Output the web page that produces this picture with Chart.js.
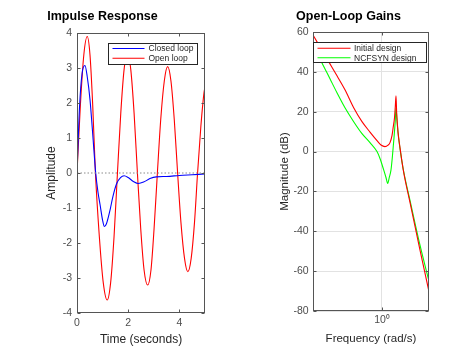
<!DOCTYPE html>
<html><head><meta charset="utf-8">
<script src="https://cdn.jsdelivr.net/npm/chart.js@4/dist/chart.umd.min.js"></script>
<style>
html,body{margin:0;padding:0;background:#fff;}
#wrap{position:relative;width:474px;height:355px;overflow:hidden;background:#fff;}
canvas{position:absolute;top:0;}
#c1{left:0;} #c2{left:268px;}
</style></head><body>
<div id="wrap"><canvas id="c1" width="282" height="355"></canvas><canvas id="c2" width="206" height="355"></canvas></div>
<script>
const FONT = "'Liberation Sans', Arial, Helvetica, sans-serif";

// ---- Impulse Response data ----
const closedT = [0, 0.1, 0.2, 0.31, 0.4, 0.51, 0.6, 0.66, 0.73, 0.82, 0.9, 1.0, 1.07, 1.15, 1.29, 1.4, 1.55, 1.7, 1.84, 2.0, 2.2, 2.4, 2.6, 2.85, 3.1, 3.5, 4.0, 4.5, 5.0];
const closedY = [0, 1.9, 2.85, 3.07, 2.75, 2.08, 1.25, 0.66, 0, -0.55, -0.9, -1.35, -1.53, -1.45, -1.06, -0.68, -0.3, -0.13, -0.08, -0.13, -0.24, -0.3, -0.26, -0.16, -0.11, -0.1, -0.07, -0.05, -0.03];
const openT = [0, 0.133, 0.267, 0.4, 0.507, 0.613, 0.72, 0.873, 1.027, 1.18, 1.313, 1.447, 1.58, 1.71, 1.84, 1.97, 2.10, 2.23, 2.36, 2.49, 2.62, 2.76, 2.89, 3.01, 3.14, 3.27, 3.41, 3.54, 3.67, 3.80, 3.93, 4.06, 4.20, 4.33, 4.46, 4.59, 4.71, 4.84, 4.97, 5.0];
const openY = [0, 1.95, 3.38, 3.9, 3.38, 1.95, 0, -1.82, -3.14, -3.63, -3.14, -1.82, 0, 1.71, 2.96, 3.42, 2.96, 1.71, 0, -1.6, -2.77, -3.2, -2.77, -1.6, 0, 1.52, 2.63, 3.04, 2.63, 1.52, 0, -1.41, -2.44, -2.82, -2.44, -1.41, 0, 1.35, 2.34, 2.42];
const zeroT = [0, 5];
const zeroY = [0, 0];
const timeTicks = [0, 2, 4];
const ampTicks = [-4, -3, -2, -1, 0, 1, 2, 3, 4];

// ---- Open-Loop Gains data ----
const initialW = [0.1475, 0.2363, 0.287, 0.3582, 0.456, 0.5741, 0.7169, 0.8707, 0.9726, 1.0868, 1.1811, 1.2486, 1.3197, 1.368, 1.4148, 1.4466, 1.4749, 1.5038, 1.559, 1.6478, 1.8056, 2.1747, 2.8703, 3.6531];
const initialMag = [58.5, 44, 38, 31, 22, 15, 9.8, 5.5, 3.3, 2.5, 3.2, 4.5, 8, 12.5, 17, 22.6, 28, 19, 10, 2, -9.3, -25.5, -49.5, -69.6];
const ncfW = [0.1475, 0.1893, 0.2363, 0.287, 0.3582, 0.456, 0.5741, 0.7169, 0.8707, 0.946, 1.0483, 1.1173, 1.1713, 1.2245, 1.2839, 1.3381, 1.3953, 1.4426, 1.4749, 1.508, 1.559, 1.6478, 1.8056, 2.1747, 2.8703, 3.6531];
const ncfMag = [53, 44.5, 36.5, 29.5, 22, 15, 9, 4.5, 0, -3.5, -9.2, -13, -16, -13, -9.2, -2, 7, 15, 22, 17, 9.5, 1.5, -9, -24.5, -47, -64.5];
const freqTicks = [1];
const freqTickLabels = ['10\u2070'];
const magTicks = [-80, -60, -40, -20, 0, 20, 40, 60];

const pts = (xs, ys) => xs.map((x, i) => ({x, y: ys[i]}));

const frame = {
  id: 'frame',
  afterDatasetsDraw(chart, args, o) {
    const {ctx, chartArea: a, scales} = chart;
    ctx.save();
    ctx.strokeStyle = o.color; ctx.lineWidth = 1;
    const L = Math.round(a.left) + 0.5, T = Math.round(a.top) + 0.5;
    const R = Math.round(a.right) - 0.5, B = Math.round(a.bottom) - 0.5;
    ctx.beginPath();
    scales.x.ticks.forEach(t => {
      const p = Math.round(scales.x.getPixelForValue(t.value)) + 0.5;
      ctx.moveTo(p, B); ctx.lineTo(p, B - o.len);
      ctx.moveTo(p, T); ctx.lineTo(p, T + o.len);
    });
    scales.y.ticks.forEach(t => {
      const p = Math.round(scales.y.getPixelForValue(t.value)) + 0.5;
      ctx.moveTo(L, p); ctx.lineTo(L + o.len, p);
      ctx.moveTo(R, p); ctx.lineTo(R - o.len, p);
    });
    ctx.stroke();
    ctx.strokeRect(L, T, R - L, B - T);
    // legend
    const g = o.legend;
    const bx = Math.round(a.left + g.dx) + 0.5, by = Math.round(a.top + g.dy) + 0.5;
    ctx.fillStyle = '#fff';
    ctx.fillRect(bx, by, g.w, g.h);
    ctx.strokeStyle = '#262626';
    ctx.strokeRect(bx, by, g.w, g.h);
    const items = chart.data.datasets.filter(d => d.label);
    ctx.font = g.font;
    ctx.textBaseline = 'middle';
    ctx.textAlign = 'left';
    items.forEach((d, i) => {
      const y = by + g.row0 + i * g.rowH;
      ctx.strokeStyle = d.borderColor; ctx.lineWidth = 1.1;
      ctx.beginPath(); ctx.moveTo(bx + g.lx0, y); ctx.lineTo(bx + g.lx1, y); ctx.stroke();
      ctx.fillStyle = '#262626';
      ctx.fillText(d.label, bx + g.tx, y + 0.5);
    });
    ctx.restore();
  }
};

const tickFont = {family: FONT, size: 10.5};
const tickColor = '#4d4d4d';
const labColor = '#262626';

new Chart(document.getElementById('c1'), {
  type: 'line',
  data: {datasets: [
    {label: '', data: pts(zeroT, zeroY), borderColor: '#8a8a8a', borderWidth: 1, borderDash: [1.5, 2], pointRadius: 0, tension: 0},
    {label: 'Closed loop', data: pts(closedT, closedY), borderColor: '#0000ff', borderWidth: 1.1, pointRadius: 0, cubicInterpolationMode: 'monotone'},
    {label: 'Open loop', data: pts(openT, openY), borderColor: '#ff0000', borderWidth: 1.1, pointRadius: 0, cubicInterpolationMode: 'monotone'}
  ]},
  options: {
    responsive: false, animation: false, events: [],
    layout: {padding: {left: 0, right: 77, top: 0, bottom: 0}},
    plugins: {
      legend: {display: false}, tooltip: {enabled: false},
      title: {display: true, text: 'Impulse Response', color: '#000', font: {family: FONT, size: 12.5, weight: 'bold'}, padding: {top: 9.5, bottom: 8.5}},
      frame: {color: '#555', len: 3, legend: {dx: 31, dy: 10, w: 89, h: 21, row0: 5, rowH: 9.7, lx0: 4, lx1: 36, tx: 40, font: '8.5px ' + FONT}}
    },
    scales: {
      x: {type: 'linear', min: 0, max: 5, bounds: 'data',
        afterBuildTicks: s => { s.ticks = timeTicks.map(v => ({value: v})); },
        afterFit: s => { s.height = 42; },
        grid: {display: false, drawTicks: false}, border: {display: false},
        ticks: {padding: 3.4, color: tickColor, font: tickFont, maxRotation: 0, callback: v => String(v)},
        title: {display: true, text: 'Time (seconds)', color: labColor, font: {family: FONT, size: 12}, padding: {top: 0, bottom: 8.5}}},
      y: {type: 'linear', min: -4, max: 4,
        afterBuildTicks: s => { s.ticks = ampTicks.map(v => ({value: v})); },
        afterFit: s => { s.width = 77; },
        grid: {display: false, drawTicks: false}, border: {display: false},
        ticks: {padding: 5, color: tickColor, font: tickFont, callback: v => String(v)},
        title: {display: true, text: 'Amplitude', color: labColor, font: {family: FONT, size: 12}, padding: {top: 44.8, bottom: 0}}}
    }
  },
  plugins: [frame]
});

new Chart(document.getElementById('c2'), {
  type: 'line',
  data: {datasets: [
    {label: 'Initial design', data: pts(initialW, initialMag), borderColor: '#ff0000', borderWidth: 1.1, pointRadius: 0, cubicInterpolationMode: 'monotone'},
    {label: 'NCFSYN design', data: pts(ncfW, ncfMag), borderColor: '#00ff00', borderWidth: 1.1, pointRadius: 0, cubicInterpolationMode: 'monotone'}
  ]},
  options: {
    responsive: false, animation: false, events: [],
    layout: {padding: {left: 0, right: 45, top: 0, bottom: 0}},
    plugins: {
      legend: {display: false}, tooltip: {enabled: false},
      title: {display: true, text: 'Open-Loop Gains', color: '#000', font: {family: FONT, size: 12.5, weight: 'bold'}, padding: {top: 9.5, bottom: 7.5}},
      frame: {color: '#555', len: 3, legend: {dx: 0, dy: 10, w: 113, h: 20, row0: 5.7, rowH: 9.6, lx0: 4, lx1: 37, tx: 40.5, font: '8.5px ' + FONT}}
    },
    scales: {
      x: {type: 'logarithmic', min: 0.1475, max: 3.684, bounds: 'data',
        afterBuildTicks: s => { s.ticks = freqTicks.map(v => ({value: v})); },
        afterFit: s => { s.height = 44; },
        grid: {display: true, drawTicks: false, color: '#e2e2e2', lineWidth: 1}, border: {display: false},
        ticks: {padding: 3, color: tickColor, font: tickFont, maxRotation: 0, autoSkip: false, callback: (v, i) => freqTickLabels[i]},
        title: {display: true, text: 'Frequency (rad/s)', color: labColor, font: {family: FONT, size: 11.5}, padding: {top: 0, bottom: 8.8}}},
      y: {type: 'linear', min: -80, max: 60,
        afterBuildTicks: s => { s.ticks = magTicks.map(v => ({value: v})); },
        afterFit: s => { s.width = 45; },
        grid: {display: true, drawTicks: false, color: '#e2e2e2', lineWidth: 1}, border: {display: false},
        ticks: {padding: 4.3, color: tickColor, font: tickFont, callback: v => String(v)},
        title: {display: true, text: 'Magnitude (dB)', color: labColor, font: {family: FONT, size: 11.5}, padding: {top: 10.4, bottom: 0}}}
    }
  },
  plugins: [frame]
});
</script>
</body></html>
